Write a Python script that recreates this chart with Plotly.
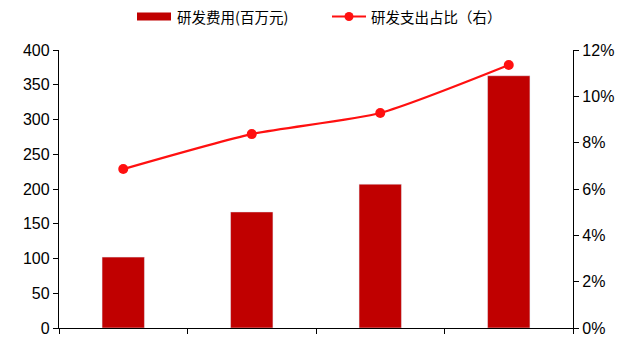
import plotly.graph_objects as go

categories = ["2018", "2019", "2020", "2021"]
rd_expense = [102, 167, 207, 363]          # 研发费用(百万元)
rd_ratio = [6.86, 8.37, 9.28, 11.35]       # 研发支出占比（%）
left_ticks = [0, 50, 100, 150, 200, 250, 300, 350, 400]
right_ticks = [0, 2, 4, 6, 8, 10, 12]
right_tick_text = [f"{v}%" for v in right_ticks]

BAR = "#C00000"
LINE = "#FF1010"

W, H = 640, 337
L, R, T, B = 59, 67, 50, 9
pw, ph = W - L - R, H - T - B

def px(x):
    return (x - L) / pw

def py(y):
    return (H - B - y) / ph

fig = go.Figure()
fig.add_trace(go.Bar(x=categories, y=rd_expense, marker_color=BAR, width=0.33,
                     name="研发费用(百万元)", showlegend=False))
fig.add_trace(go.Scatter(x=categories, y=rd_ratio, yaxis="y2", mode="lines+markers",
                         line=dict(color=LINE, width=2.2, shape="spline", smoothing=0.6),
                         marker=dict(color=LINE, size=10),
                         name="研发支出占比（右）", showlegend=False))

tickfont = dict(family="Liberation Sans, Arial", size=16, color="#000")

fig.update_layout(
    width=W, height=H,
    margin=dict(l=L, r=R, t=T, b=B, autoexpand=False),
    paper_bgcolor="white", plot_bgcolor="white",
    showlegend=False,
    xaxis=dict(type="category", showline=True, linecolor="#000", linewidth=1.3,
               ticks="outside", tickson="boundaries", ticklen=5, tickcolor="#000",
               showticklabels=False,
               tickfont=tickfont, automargin=False, showgrid=False, zeroline=False),
    yaxis=dict(range=[0, 400], tickvals=left_ticks, showline=True, linecolor="#000",
               linewidth=1.3, ticks="outside", ticklen=5, tickcolor="#000",
               tickfont=tickfont, showgrid=False, zeroline=False, automargin=False),
    yaxis2=dict(range=[0, 12], tickvals=right_ticks, ticktext=right_tick_text,
                overlaying="y", side="right", showline=True, linecolor="#000",
                linewidth=1.3, ticks="outside", ticklen=5, tickcolor="#000",
                tickfont=tickfont, showgrid=False, zeroline=False, automargin=False),
)

# manual legend
legfont = dict(family="Noto Sans CJK SC", size=14.5, color="#000")
fig.add_shape(type="rect", xref="paper", yref="paper",
              x0=px(137), x1=px(171), y0=py(20.5), y1=py(12.5),
              fillcolor=BAR, line=dict(width=0))
fig.add_annotation(xref="paper", yref="paper", x=px(175), y=py(16.5),
                   text="研发费用(百万元)", showarrow=False, xanchor="left",
                   yanchor="middle", font=legfont)
fig.add_shape(type="line", xref="paper", yref="paper",
              x0=px(332), x1=px(366), y0=py(16.5), y1=py(16.5),
              line=dict(color=LINE, width=2.2))
fig.add_shape(type="circle", xref="paper", yref="paper",
              x0=px(344.5), x1=px(353.5), y0=py(21), y1=py(12),
              fillcolor=LINE, line=dict(width=0))
fig.add_annotation(xref="paper", yref="paper", x=px(369), y=py(16.5),
                   text="研发支出占比（右）", showarrow=False, xanchor="left",
                   yanchor="middle", font=legfont)

fig.write_html("out.html")
